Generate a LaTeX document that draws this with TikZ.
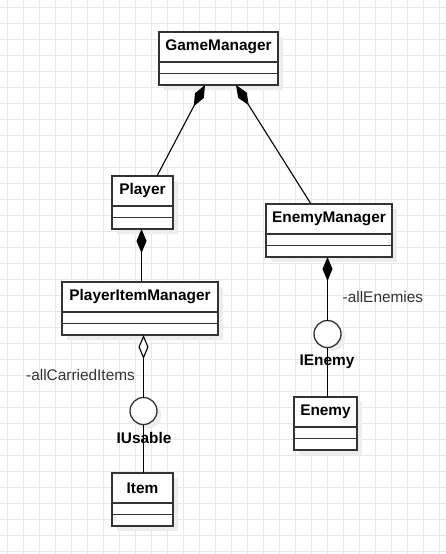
\documentclass[tikz,border=0pt]{standalone}
\usepackage{fontspec}
\setmainfont{Liberation Sans}
\usetikzlibrary{arrows.meta,calc,backgrounds}
\definecolor{umlgrey}{HTML}{333333}
\definecolor{gridgrey}{HTML}{E8E8E8}
\definecolor{shadowgrey}{HTML}{EDEDED}
\tikzset{CLASS/.style={rectangle,draw=umlgrey,line width=1.3pt,fill=white,anchor=north,inner sep=0pt,outer sep=0pt,minimum height=30pt,font=\fontsize{15.4}{18}\selectfont\bfseries}}
\tikzset{SLOT/.style={rectangle,draw=umlgrey,line width=1.3pt,fill=white,anchor=north,inner sep=0pt,outer sep=0pt,minimum height=11.5pt}}
\tikzset{IFACE/.style={circle,draw=umlgrey,line width=1.3pt,fill=white,inner sep=0pt,outer sep=0pt,minimum size=27pt}}
\tikzset{IFLABEL/.style={inner sep=0pt,font=\fontsize{15.4}{18}\selectfont\bfseries}}
\tikzset{ROLE/.style={inner sep=0pt,anchor=west,text=umlgrey,font=\fontsize{15.4}{18}\selectfont}}
\tikzset{LINK/.style={line width=1.1pt,black}}
\tikzset{COMPOSE/.style={LINK,{Diamond[length=24pt,width=10pt]}-}}
\tikzset{AGGREGATE/.style={LINK,{Diamond[length=24pt,width=10pt,fill=white]}-}}
\tikzset{GRID/.style={gridgrey,line width=1pt}}
\tikzset{SHADOW/.style={fill=shadowgrey}}

\begin{document}
\begin{tikzpicture}[x=1pt,y=-1pt]
\useasboundingbox (0,0) rectangle (446,554);

\begin{scope}[on background layer]
\fill[white] (0,0) rectangle (446,554);
\foreach \gx in {7,23,...,446} \draw[GRID] (\gx,0) -- (\gx,554);
\foreach \gy in {7,23,...,554} \draw[GRID] (0,\gy) -- (446,\gy);
\end{scope}

% classes
\node[CLASS, minimum width=119pt] (n_game) at (218.5,32) {GameManager};
\node[SLOT, minimum width=119pt] (n_game_attr) at (n_game.south) {};
\node[SLOT, minimum width=119pt] (n_game_ops) at (n_game_attr.south) {};

\node[CLASS, minimum width=61pt] (n_player) at (142.5,176) {Player};
\node[SLOT, minimum width=61pt] (n_player_attr) at (n_player.south) {};
\node[SLOT, minimum width=61pt] (n_player_ops) at (n_player_attr.south) {};

\node[CLASS, minimum width=156pt] (n_pim) at (140,282) {PlayerItemManager};
\node[SLOT, minimum width=156pt] (n_pim_attr) at (n_pim.south) {};
\node[SLOT, minimum width=156pt] (n_pim_ops) at (n_pim_attr.south) {};

\node[CLASS, minimum width=126pt] (n_enemymgr) at (329,204) {EnemyManager};
\node[SLOT, minimum width=126pt] (n_enemymgr_attr) at (n_enemymgr.south) {};
\node[SLOT, minimum width=126pt] (n_enemymgr_ops) at (n_enemymgr_attr.south) {};

\node[CLASS, minimum width=63pt] (n_enemy) at (325.5,397) {Enemy};
\node[SLOT, minimum width=63pt] (n_enemy_attr) at (n_enemy.south) {};
\node[SLOT, minimum width=63pt] (n_enemy_ops) at (n_enemy_attr.south) {};

\node[CLASS, minimum width=61pt] (n_item) at (142.5,473) {Item};
\node[SLOT, minimum width=61pt] (n_item_attr) at (n_item.south) {};
\node[SLOT, minimum width=61pt] (n_item_ops) at (n_item_attr.south) {};

% interfaces
\node[IFACE] (n_iusable) at (143.5,411) {};
\node[IFACE] (n_ienemy) at (327.5,334) {};
\node[IFLABEL] (l_iusable) at (144,438) {IUsable};
\node[IFLABEL] (l_ienemy) at (327,362) {IEnemy};

\begin{scope}[on background layer]
\foreach \c in {n_game,n_player,n_pim,n_enemymgr,n_enemy,n_item}
  \fill[SHADOW] ($(\c.north west)+(5,5)$) rectangle ($(\c_ops.south east)+(5,5)$);
\fill[SHADOW] ($(n_iusable)+(4,4)$) circle (13.5);
\fill[SHADOW] ($(n_ienemy)+(4,4)$) circle (13.5);
\end{scope}

% associations
\draw[COMPOSE] ($(n_game_ops.south)+(-13.5,0)$) -- ($(n_player.north)+(14.5,0)$);
\draw[COMPOSE] ($(n_game_ops.south)+(17.5,0)$) -- ($(n_enemymgr.north)+(-18,0)$);
\draw[COMPOSE] ($(n_player_ops.south)+(-1,0)$) -- ($(n_pim.north)+(1.5,0)$);
\draw[AGGREGATE] ($(n_pim_ops.south)+(3.5,0)$) -- (n_iusable.north);
\draw[COMPOSE] (n_enemymgr_ops.south-|n_ienemy) -- (n_ienemy.north);
\draw[LINK] (n_iusable.south) -- (n_iusable.south|-n_item.north);
\draw[LINK] (n_ienemy.south) -- (n_ienemy.south|-n_enemy.north);

\node[ROLE] (l_carried) at (26,375) {-allCarriedItems};
\node[ROLE] (l_enemies) at (342.5,297) {-allEnemies};

\end{tikzpicture}
\end{document}
